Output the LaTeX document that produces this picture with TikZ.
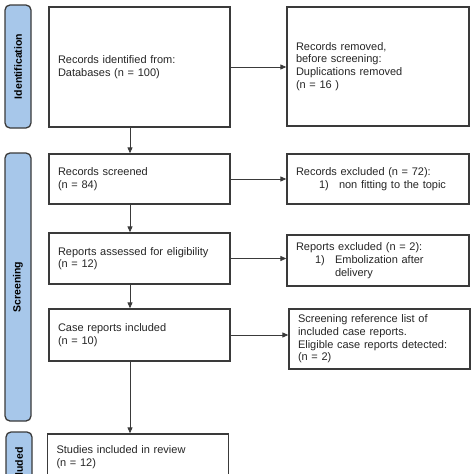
\documentclass[tikz,border=0pt]{standalone}
\usepackage{fontspec}
\setmainfont{Liberation Sans}
\usetikzlibrary{arrows.meta}
\definecolor{barblue}{HTML}{A7C7EA}
\definecolor{lineg}{HTML}{3A3A3A}
\begin{document}
\begin{tikzpicture}[x=1pt, y=-1pt,
        box/.style={draw=lineg, line width=1.3pt, fill=white, inner xsep=9pt, inner ysep=0pt,
            text width=163pt, align=left, text=black!85, font=\fontsize{11}{12.7}\selectfont},
        bar/.style={draw=lineg, line width=1.3pt, fill=barblue, rounded corners=5pt, rotate=90,
            minimum height=26pt, inner sep=0pt, font=\fontsize{10.5}{12}\selectfont\bfseries},
        arr/.style={-{Triangle[length=6pt,width=5pt]}, line width=0.9pt, draw=lineg}]
        \useasboundingbox (0,0) rectangle (474,474);
        \clip (0,0) rectangle (474,474);
        \node [bar, minimum width=123pt] (idbar) at (18,66.5) {Identification};
        \node [bar, minimum width=268pt] (scbar) at (18,287) {Screening};
        \node [bar, minimum width=74pt] (inbar) at (19,469) {Included};
        \node [box, minimum height=120pt] (ident) at (139.5,67) {Records identified from:\\Databases (n = 100)};
        \node [box, minimum height=50pt] (screen) at (139.5,179) {Records screened\\(n = 84)};
        \node [box, minimum height=51pt] (assess) at (139.5,258.5) {Reports assessed for eligibility\\(n = 12)};
        \node [box, minimum height=52pt] (cases) at (139.5,335) {Case reports included\\(n = 10)};
        \node [box, minimum height=46pt] (studies) at (138,457) {Studies included in review\\(n = 12)};
        \node [box, text width=164pt, minimum height=119pt] (removed) at (378,66.5)
            {Records removed,\\before screening:\\Duplications removed\\(n = 16 )};
        \node [box, text width=164pt, minimum height=50pt] (recexcl) at (378,179)
            {Records excluded (n = 72):\\\hspace*{23pt}\makebox[20pt][l]{1)}non fitting to the topic};
        \node [box, text width=164pt, minimum height=51pt] (repexcl) at (378,260.5)
            {Reports excluded (n = 2):\\\hspace*{19pt}\makebox[20pt][l]{1)}Embolization after\\\hspace*{39pt}delivery};
        \node [box, minimum height=60pt] (reflist) at (379.5,339)
            {Screening reference list of\\included case reports.\\Eligible case reports detected:\\(n = 2)};
        \coordinate (ax) at (130,0);
        \draw [arr] (ax |- ident.south) -- (ax |- screen.north);
        \draw [arr] (ax |- screen.south) -- (ax |- assess.north);
        \draw [arr] (ax |- assess.south) -- (ax |- cases.north);
        \draw [arr] (ax |- cases.south) -- (ax |- studies.north);
        \draw [arr] (ident.east) -- (ident.east -| removed.west);
        \draw [arr] (screen.east) -- (screen.east -| recexcl.west);
        \draw [arr] (assess.east) -- (assess.east -| repexcl.west);
        \draw [arr] (cases.east) -- (cases.east -| reflist.west);
\end{tikzpicture}
\end{document}
